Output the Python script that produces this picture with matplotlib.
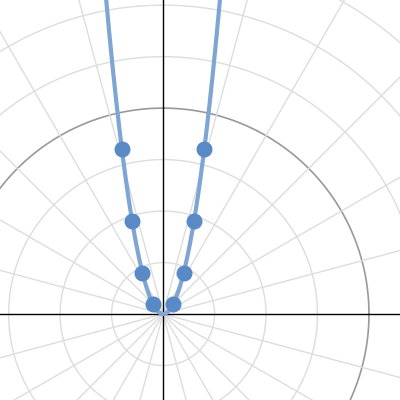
import numpy as np
import matplotlib.pyplot as plt

# points on y = 5x^2
pt_x = [-0.8, -0.6, -0.4, -0.2, 0.2, 0.4, 0.6, 0.8]
pt_y = [3.2, 1.8, 0.8, 0.2, 0.2, 0.8, 1.8, 3.2]
curve_x = np.linspace(-1.2, 1.2, 400)
curve_y = 5 * curve_x ** 2

fig = plt.figure(figsize=(4, 4), dpi=100)
ax = fig.add_axes([0, 0, 1, 1])
ax.set_xlim(-3.165, 4.60)
ax.set_ylim(-1.67, 6.10)
ax.set_aspect("equal")
ax.axis("off")

t = np.linspace(0, 2 * np.pi, 400)
for r in range(1, 13):
    dark = r % 4 == 0
    ax.plot(r * np.cos(t), r * np.sin(t),
            color="#999999" if dark else "#dddddd",
            lw=1.2 if dark else 1.0, zorder=1)
for a in range(0, 180, 15):
    if a % 90 == 0:
        continue
    th = np.radians(a)
    ax.plot([-15 * np.cos(th), 15 * np.cos(th)], [-15 * np.sin(th), 15 * np.sin(th)],
            color="#dddddd", lw=1.0, zorder=1)
ax.axhline(0, color="black", lw=1.0, zorder=2)
ax.axvline(0, color="black", lw=1.0, zorder=2)

ax.plot(curve_x, curve_y, color="#7fa5d3", lw=3, zorder=3)
ax.scatter(pt_x, pt_y, s=110, color="#5a8ac6", zorder=4)

fig.savefig("out.png", dpi=100)
